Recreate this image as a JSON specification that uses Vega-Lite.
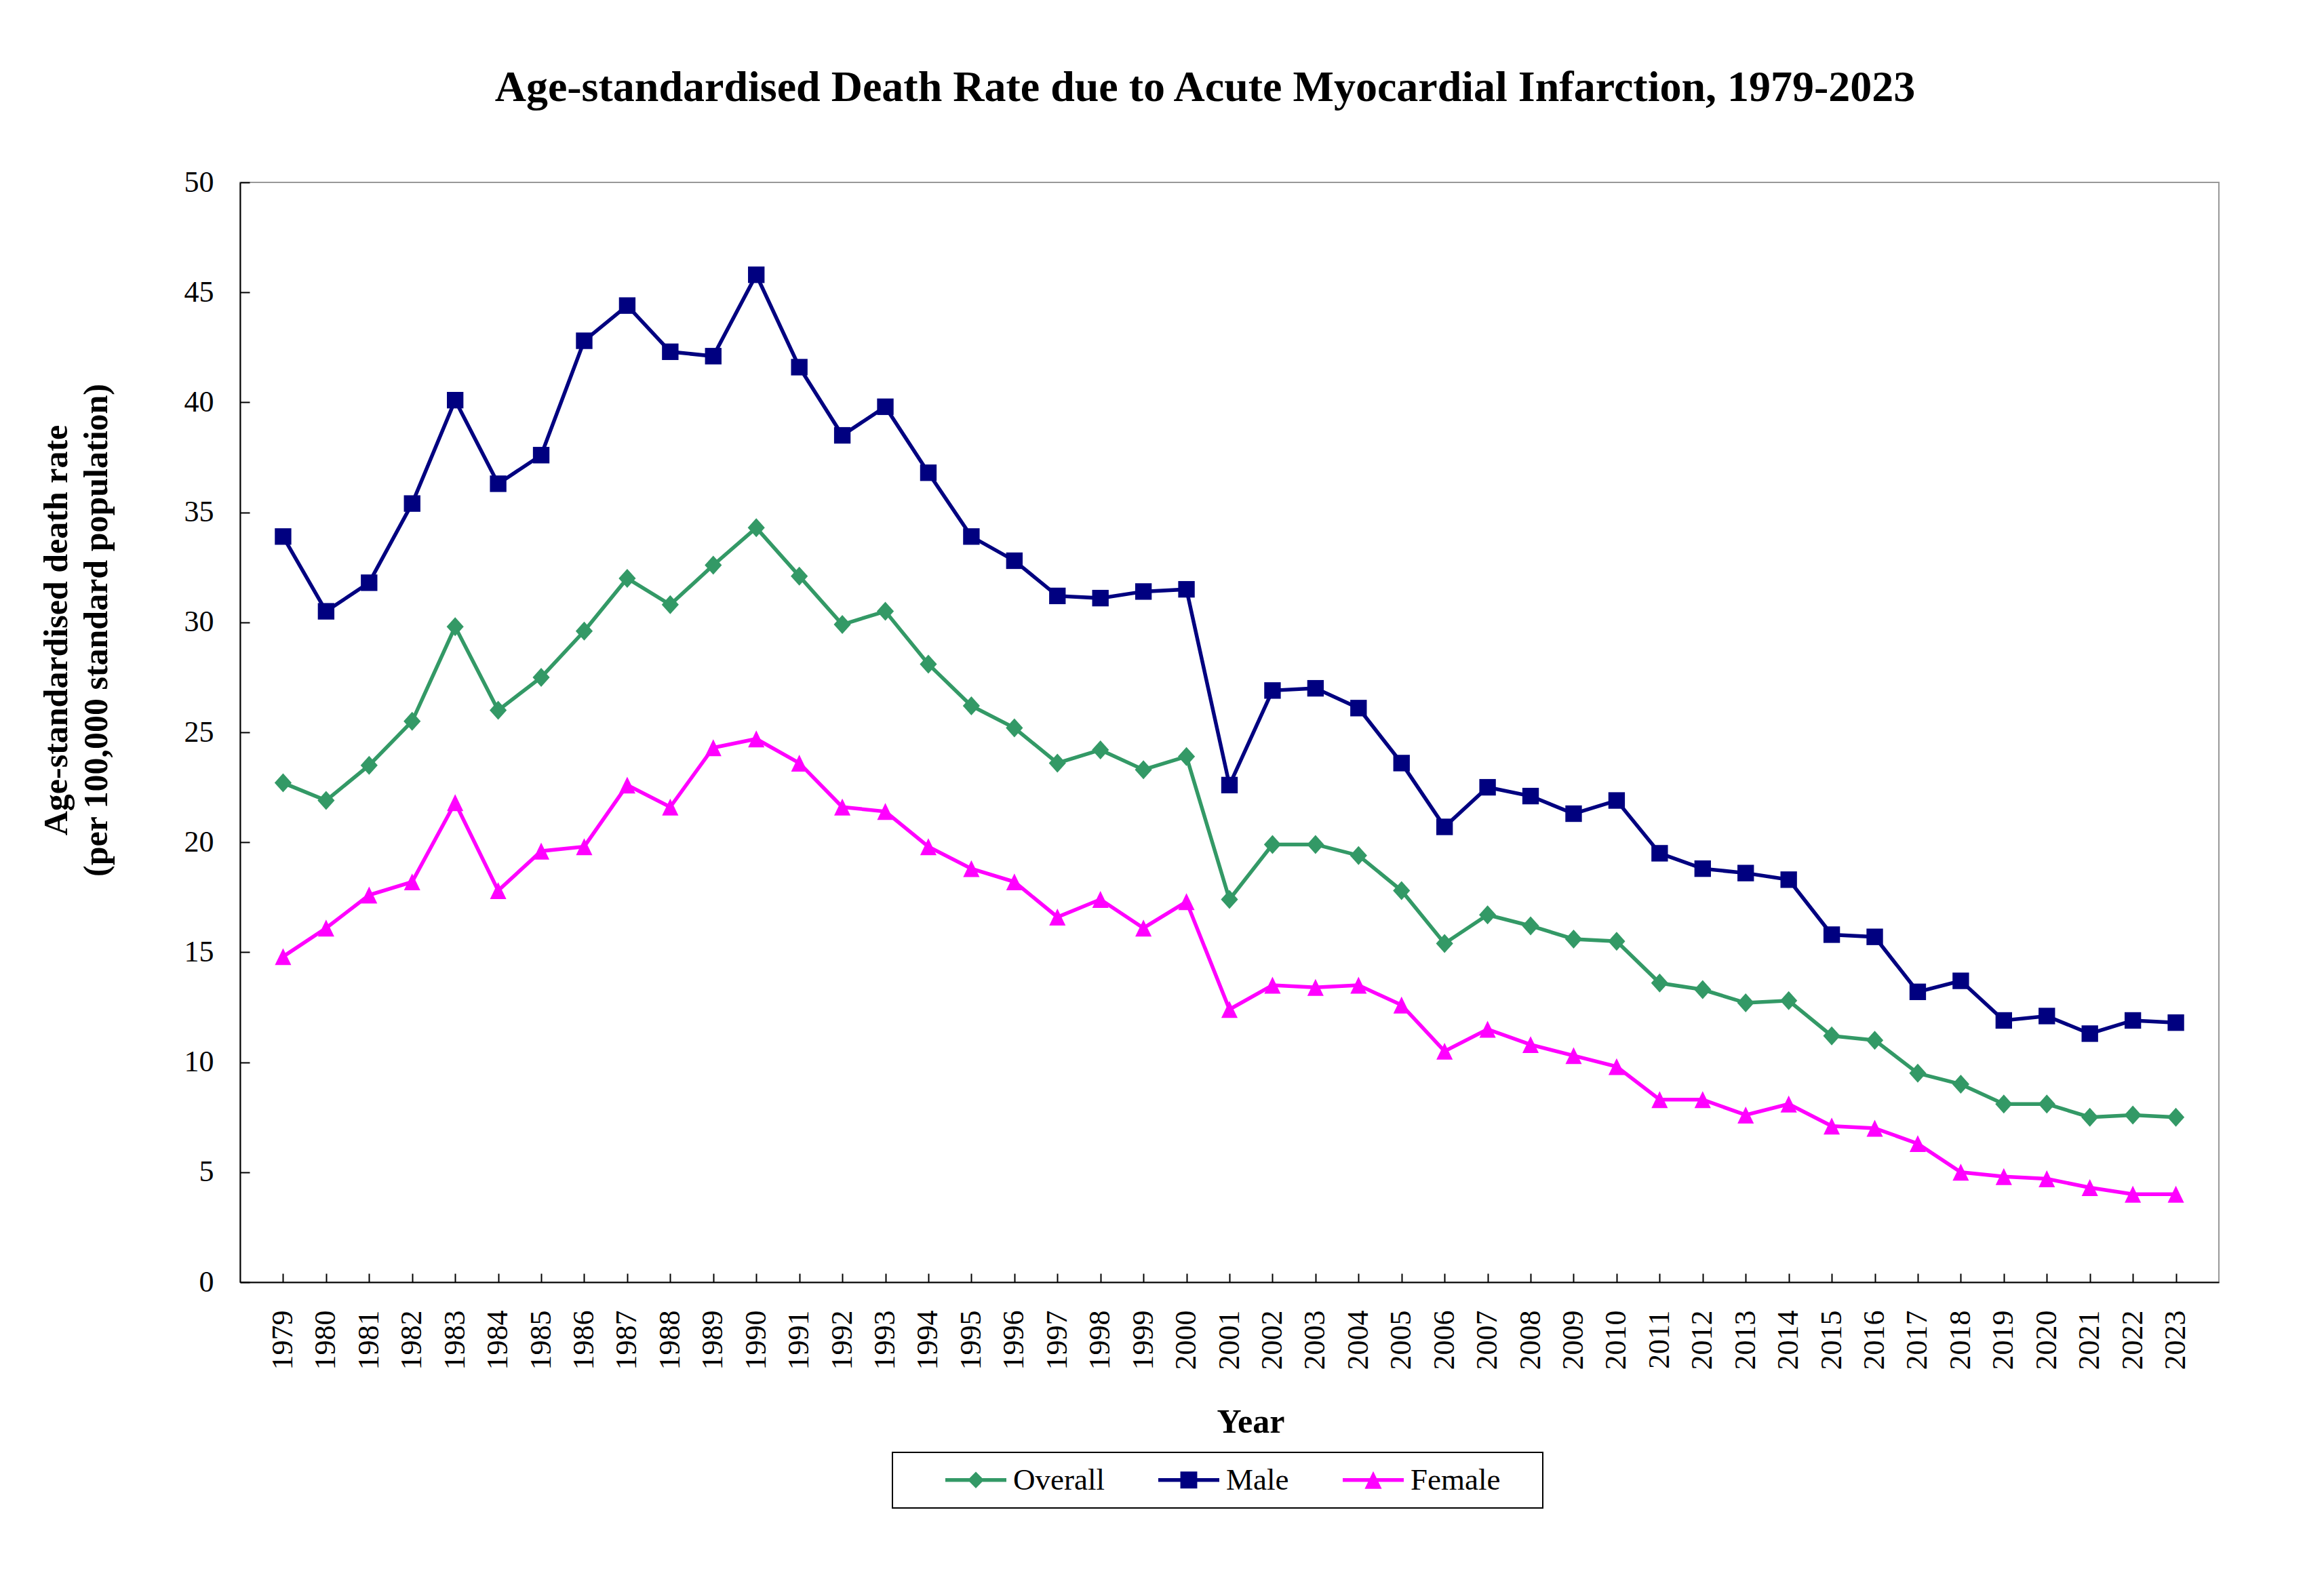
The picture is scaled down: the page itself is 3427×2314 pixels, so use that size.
{
  "$schema": "https://vega.github.io/schema/vega-lite/v6.json",
  "width": 2918,
  "height": 1622,
  "autosize": {"type": "none"},
  "padding": {"left": 354, "top": 269, "right": 155, "bottom": 423},
  "background": "white",
  "config": {
    "view": {"stroke": "#999999", "strokeWidth": 2},
    "axis": {
      "domainColor": "black", "domainWidth": 2,
      "tickColor": "black", "tickWidth": 2,
      "labelFont": "Liberation Serif", "labelFontSize": 44, "labelColor": "black",
      "titleFont": "Liberation Serif", "titleFontSize": 50, "titleFontWeight": "bold", "titleColor": "black",
      "grid": false
    }
  },
  "title": {
    "text": "Age-standardised Death Rate due to Acute Myocardial Infarction, 1979-2023",
    "font": "Liberation Serif", "fontSize": 64, "fontWeight": "bold", "color": "black",
    "anchor": "middle", "dx": -36, "offset": 85
  },
  "data": {"values": [
    {"year": 1979, "series": "Overall", "rate": 22.7}, {"year": 1979, "series": "Male", "rate": 33.9}, {"year": 1979, "series": "Female", "rate": 14.8},
    {"year": 1980, "series": "Overall", "rate": 21.9}, {"year": 1980, "series": "Male", "rate": 30.5}, {"year": 1980, "series": "Female", "rate": 16.1},
    {"year": 1981, "series": "Overall", "rate": 23.5}, {"year": 1981, "series": "Male", "rate": 31.8}, {"year": 1981, "series": "Female", "rate": 17.6},
    {"year": 1982, "series": "Overall", "rate": 25.5}, {"year": 1982, "series": "Male", "rate": 35.4}, {"year": 1982, "series": "Female", "rate": 18.2},
    {"year": 1983, "series": "Overall", "rate": 29.8}, {"year": 1983, "series": "Male", "rate": 40.1}, {"year": 1983, "series": "Female", "rate": 21.8},
    {"year": 1984, "series": "Overall", "rate": 26.0}, {"year": 1984, "series": "Male", "rate": 36.3}, {"year": 1984, "series": "Female", "rate": 17.8},
    {"year": 1985, "series": "Overall", "rate": 27.5}, {"year": 1985, "series": "Male", "rate": 37.6}, {"year": 1985, "series": "Female", "rate": 19.6},
    {"year": 1986, "series": "Overall", "rate": 29.6}, {"year": 1986, "series": "Male", "rate": 42.8}, {"year": 1986, "series": "Female", "rate": 19.8},
    {"year": 1987, "series": "Overall", "rate": 32.0}, {"year": 1987, "series": "Male", "rate": 44.4}, {"year": 1987, "series": "Female", "rate": 22.6},
    {"year": 1988, "series": "Overall", "rate": 30.8}, {"year": 1988, "series": "Male", "rate": 42.3}, {"year": 1988, "series": "Female", "rate": 21.6},
    {"year": 1989, "series": "Overall", "rate": 32.6}, {"year": 1989, "series": "Male", "rate": 42.1}, {"year": 1989, "series": "Female", "rate": 24.3},
    {"year": 1990, "series": "Overall", "rate": 34.3}, {"year": 1990, "series": "Male", "rate": 45.8}, {"year": 1990, "series": "Female", "rate": 24.7},
    {"year": 1991, "series": "Overall", "rate": 32.1}, {"year": 1991, "series": "Male", "rate": 41.6}, {"year": 1991, "series": "Female", "rate": 23.6},
    {"year": 1992, "series": "Overall", "rate": 29.9}, {"year": 1992, "series": "Male", "rate": 38.5}, {"year": 1992, "series": "Female", "rate": 21.6},
    {"year": 1993, "series": "Overall", "rate": 30.5}, {"year": 1993, "series": "Male", "rate": 39.8}, {"year": 1993, "series": "Female", "rate": 21.4},
    {"year": 1994, "series": "Overall", "rate": 28.1}, {"year": 1994, "series": "Male", "rate": 36.8}, {"year": 1994, "series": "Female", "rate": 19.8},
    {"year": 1995, "series": "Overall", "rate": 26.2}, {"year": 1995, "series": "Male", "rate": 33.9}, {"year": 1995, "series": "Female", "rate": 18.8},
    {"year": 1996, "series": "Overall", "rate": 25.2}, {"year": 1996, "series": "Male", "rate": 32.8}, {"year": 1996, "series": "Female", "rate": 18.2},
    {"year": 1997, "series": "Overall", "rate": 23.6}, {"year": 1997, "series": "Male", "rate": 31.2}, {"year": 1997, "series": "Female", "rate": 16.6},
    {"year": 1998, "series": "Overall", "rate": 24.2}, {"year": 1998, "series": "Male", "rate": 31.1}, {"year": 1998, "series": "Female", "rate": 17.4},
    {"year": 1999, "series": "Overall", "rate": 23.3}, {"year": 1999, "series": "Male", "rate": 31.4}, {"year": 1999, "series": "Female", "rate": 16.1},
    {"year": 2000, "series": "Overall", "rate": 23.9}, {"year": 2000, "series": "Male", "rate": 31.5}, {"year": 2000, "series": "Female", "rate": 17.3},
    {"year": 2001, "series": "Overall", "rate": 17.4}, {"year": 2001, "series": "Male", "rate": 22.6}, {"year": 2001, "series": "Female", "rate": 12.4},
    {"year": 2002, "series": "Overall", "rate": 19.9}, {"year": 2002, "series": "Male", "rate": 26.9}, {"year": 2002, "series": "Female", "rate": 13.5},
    {"year": 2003, "series": "Overall", "rate": 19.9}, {"year": 2003, "series": "Male", "rate": 27.0}, {"year": 2003, "series": "Female", "rate": 13.4},
    {"year": 2004, "series": "Overall", "rate": 19.4}, {"year": 2004, "series": "Male", "rate": 26.1}, {"year": 2004, "series": "Female", "rate": 13.5},
    {"year": 2005, "series": "Overall", "rate": 17.8}, {"year": 2005, "series": "Male", "rate": 23.6}, {"year": 2005, "series": "Female", "rate": 12.6},
    {"year": 2006, "series": "Overall", "rate": 15.4}, {"year": 2006, "series": "Male", "rate": 20.7}, {"year": 2006, "series": "Female", "rate": 10.5},
    {"year": 2007, "series": "Overall", "rate": 16.7}, {"year": 2007, "series": "Male", "rate": 22.5}, {"year": 2007, "series": "Female", "rate": 11.5},
    {"year": 2008, "series": "Overall", "rate": 16.2}, {"year": 2008, "series": "Male", "rate": 22.1}, {"year": 2008, "series": "Female", "rate": 10.8},
    {"year": 2009, "series": "Overall", "rate": 15.6}, {"year": 2009, "series": "Male", "rate": 21.3}, {"year": 2009, "series": "Female", "rate": 10.3},
    {"year": 2010, "series": "Overall", "rate": 15.5}, {"year": 2010, "series": "Male", "rate": 21.9}, {"year": 2010, "series": "Female", "rate": 9.8},
    {"year": 2011, "series": "Overall", "rate": 13.6}, {"year": 2011, "series": "Male", "rate": 19.5}, {"year": 2011, "series": "Female", "rate": 8.3},
    {"year": 2012, "series": "Overall", "rate": 13.3}, {"year": 2012, "series": "Male", "rate": 18.8}, {"year": 2012, "series": "Female", "rate": 8.3},
    {"year": 2013, "series": "Overall", "rate": 12.7}, {"year": 2013, "series": "Male", "rate": 18.6}, {"year": 2013, "series": "Female", "rate": 7.6},
    {"year": 2014, "series": "Overall", "rate": 12.8}, {"year": 2014, "series": "Male", "rate": 18.3}, {"year": 2014, "series": "Female", "rate": 8.1},
    {"year": 2015, "series": "Overall", "rate": 11.2}, {"year": 2015, "series": "Male", "rate": 15.8}, {"year": 2015, "series": "Female", "rate": 7.1},
    {"year": 2016, "series": "Overall", "rate": 11.0}, {"year": 2016, "series": "Male", "rate": 15.7}, {"year": 2016, "series": "Female", "rate": 7.0},
    {"year": 2017, "series": "Overall", "rate": 9.5}, {"year": 2017, "series": "Male", "rate": 13.2}, {"year": 2017, "series": "Female", "rate": 6.3},
    {"year": 2018, "series": "Overall", "rate": 9.0}, {"year": 2018, "series": "Male", "rate": 13.7}, {"year": 2018, "series": "Female", "rate": 5.0},
    {"year": 2019, "series": "Overall", "rate": 8.1}, {"year": 2019, "series": "Male", "rate": 11.9}, {"year": 2019, "series": "Female", "rate": 4.8},
    {"year": 2020, "series": "Overall", "rate": 8.1}, {"year": 2020, "series": "Male", "rate": 12.1}, {"year": 2020, "series": "Female", "rate": 4.7},
    {"year": 2021, "series": "Overall", "rate": 7.5}, {"year": 2021, "series": "Male", "rate": 11.3}, {"year": 2021, "series": "Female", "rate": 4.3},
    {"year": 2022, "series": "Overall", "rate": 7.6}, {"year": 2022, "series": "Male", "rate": 11.9}, {"year": 2022, "series": "Female", "rate": 4.0},
    {"year": 2023, "series": "Overall", "rate": 7.5}, {"year": 2023, "series": "Male", "rate": 11.8}, {"year": 2023, "series": "Female", "rate": 4.0}
  ]},
  "encoding": {
    "x": {
      "field": "year", "type": "ordinal",
      "scale": {"type": "point", "padding": 1},
      "axis": {
        "title": "Year", "labelAngle": 270, "tickSize": -13, "labelPadding": 54,
        "titleX": 1490, "titleY": 221, "titleAlign": "center", "titleBaseline": "alphabetic"
      }
    },
    "y": {
      "field": "rate", "type": "quantitative",
      "scale": {"domain": [0, 50], "nice": false},
      "axis": {
        "title": ["Age-standardised death rate", "(per 100,000 standard population)"],
        "values": [0, 5, 10, 15, 20, 25, 30, 35, 40, 45, 50],
        "tickSize": -14, "labelPadding": 53,
        "titleX": -256, "titleY": 660, "titleAlign": "center", "titleBaseline": "alphabetic",
        "titleAngle": 270, "titleLineHeight": 59
      }
    },
    "color": {
      "field": "series", "type": "nominal",
      "scale": {"domain": ["Overall", "Male", "Female"], "range": ["#339966", "#000080", "#FF00FF"]},
      "legend": {
        "title": "\u00a0", "titleOrient": "right", "titlePadding": 45, "titleFontSize": 6, "titleFont": "Liberation Serif",
        "orient": "none", "legendX": 962, "legendY": 1873,
        "direction": "horizontal", "columns": 3,
        "labelFont": "Liberation Serif", "labelFontSize": 45, "labelColor": "black",
        "symbolSize": 900, "symbolStrokeWidth": 0, "symbolOffset": 82.5, "labelOffset": 32.5,
        "columnPadding": 19, "padding": 18, "strokeColor": "black", "symbolOpacity": 1,
        "encode": {
          "symbols": {"update": {
            "shape": {"signal": "datum.value === 'Overall' ? 'M-3,-0.18L3,-0.18L3,0.18L-3,0.18ZM0,-0.82L0.8,0L0,0.82L-0.8,0Z' : datum.value === 'Male' ? 'M-3,-0.18L3,-0.18L3,0.18L-3,0.18ZM-0.83,-0.83L0.83,-0.83L0.83,0.83L-0.83,0.83Z' : 'M-3,-0.18L3,-0.18L3,0.18L-3,0.18ZM0,-0.86L0.84,0.86L-0.84,0.86Z'"}
          }},
          "legend": {"update": {"strokeWidth": {"value": 2}}}
        }
      }
    }
  },
  "layer": [
    {"mark": {"type": "line", "strokeWidth": 5.5}},
    {
      "transform": [{"filter": {"field": "series", "equal": "Overall"}}],
      "mark": {"type": "point", "filled": true, "size": 784, "opacity": 1, "strokeWidth": 0, "shape": "M0,-1L0.9,0L0,1L-0.9,0Z"}
    },
    {
      "transform": [{"filter": {"field": "series", "equal": "Male"}}],
      "mark": {"type": "point", "filled": true, "size": 784, "opacity": 1, "strokeWidth": 0, "shape": "M-0.87,-0.87L0.87,-0.87L0.87,0.87L-0.87,0.87Z"}
    },
    {
      "transform": [{"filter": {"field": "series", "equal": "Female"}}],
      "mark": {"type": "point", "filled": true, "size": 784, "opacity": 1, "strokeWidth": 0, "shape": "M0,-0.89L0.86,0.89L-0.86,0.89Z"}
    }
  ]
}
